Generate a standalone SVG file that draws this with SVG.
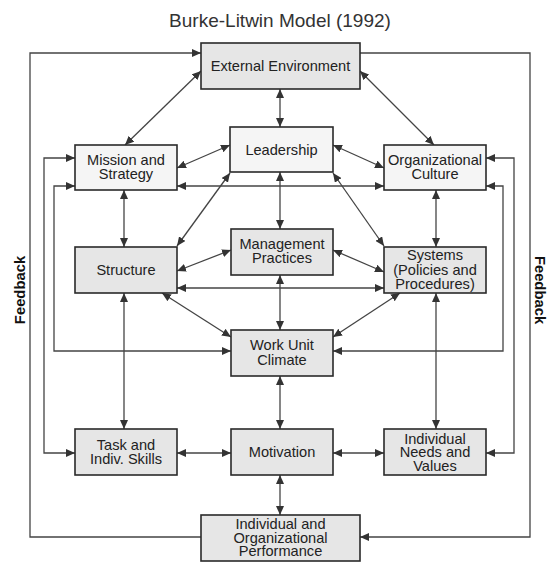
<svg xmlns="http://www.w3.org/2000/svg" width="557" height="572" viewBox="0 0 557 572">
<defs>
<marker id="a" viewBox="0 0 10 10" refX="10" refY="5" markerWidth="9" markerHeight="8" markerUnits="userSpaceOnUse" orient="auto-start-reverse" preserveAspectRatio="none"><path d="M0,0 L10,5 L0,10 z" fill="#333"/></marker>
</defs>
<style>
.b{stroke:#2a2a2a;stroke-width:1.6}
.g{fill:#e6e6e6}
.l{fill:#f5f5f5}
.t{font-family:"Liberation Sans",Arial,sans-serif;font-size:14.6px;fill:#222;text-anchor:middle}
.c path{fill:none;stroke:#444;stroke-width:1.3}
.bi{marker-start:url(#a);marker-end:url(#a)}
.one{marker-end:url(#a)}
.f{font-family:"Liberation Sans",Arial,sans-serif;font-size:14.8px;font-weight:bold;fill:#111;text-anchor:middle}
</style>
<rect width="557" height="572" fill="#fff"/>
<text x="280" y="27" font-family="Liberation Sans, Arial, sans-serif" font-size="19" fill="#333" text-anchor="middle">Burke-Litwin Model (1992)</text>
<text class="f" transform="translate(25,290) rotate(-90)">Feedback</text>
<text class="f" transform="translate(535,290) rotate(90)">Feedback</text>
<g class="c" id="connectors">
<path class="one" d="M201,537 H30 V53 H201"/>
<path class="one" d="M360,53 H530 V537 H360"/>
<path class="bi" d="M75,158 H44 V453 H75"/>
<path class="bi" d="M75,186 H54 V351 H231"/>
<path class="bi" d="M486,158 H514 V453 H486"/>
<path class="bi" d="M486,186 H503 V351 H333"/>
<path class="bi" d="M124,190 V247"/>
<path class="bi" d="M124,293 V429"/>
<path class="bi" d="M436,190 V247"/>
<path class="bi" d="M436,293 V429"/>
<path class="bi" d="M280,89 V127"/>
<path class="bi" d="M280,172 V229"/>
<path class="bi" d="M280,275 V330"/>
<path class="bi" d="M280,376 V429"/>
<path class="bi" d="M280,475 V515"/>
<path class="bi" d="M201,71 L125,145"/>
<path class="bi" d="M360,71 L434,145"/>
<path class="bi" d="M230,145 L177,168"/>
<path class="bi" d="M333,145 L384,168"/>
<path class="bi" d="M177,186 H384"/>
<path class="bi" d="M230,173 L177,246"/>
<path class="bi" d="M333,173 L384,246"/>
<path class="bi" d="M177,271 L231,250"/>
<path class="bi" d="M333,250 L384,272"/>
<path class="bi" d="M177,288 H384"/>
<path class="bi" d="M162,293 L231,337"/>
<path class="bi" d="M400,293 L333,337"/>
<path class="bi" d="M177,453 H231"/>
<path class="bi" d="M333,453 H384"/>
</g>
<g id="external"><rect class="b g" x="201" y="43" width="159" height="46"/><text class="t" x="280.5" y="71">External Environment</text></g>
<g id="leadership"><rect class="b l" x="230" y="127" width="103" height="45"/><text class="t" x="281.5" y="154.5">Leadership</text></g>
<g id="mission"><rect class="b l" x="75" y="145" width="102" height="45"/><text class="t" x="126" y="165">Mission and</text><text class="t" x="126" y="179">Strategy</text></g>
<g id="culture"><rect class="b l" x="384" y="145" width="102" height="45"/><text class="t" x="435" y="165">Organizational</text><text class="t" x="435" y="178.5">Culture</text></g>
<g id="structure"><rect class="b g" x="75" y="247" width="102" height="46"/><text class="t" x="126" y="275">Structure</text></g>
<g id="management"><rect class="b g" x="231" y="229" width="102" height="46"/><text class="t" x="282" y="249">Management</text><text class="t" x="282" y="263">Practices</text></g>
<g id="systems"><rect class="b g" x="384" y="247" width="102" height="46"/><text class="t" x="435" y="260">Systems</text><text class="t" x="435" y="274.5">(Policies and</text><text class="t" x="435" y="289">Procedures)</text></g>
<g id="workunit"><rect class="b g" x="231" y="330" width="102" height="46"/><text class="t" x="282" y="350">Work Unit</text><text class="t" x="282" y="365">Climate</text></g>
<g id="task"><rect class="b g" x="75" y="429" width="102" height="46"/><text class="t" x="126" y="450">Task and</text><text class="t" x="126" y="464">Indiv. Skills</text></g>
<g id="motivation"><rect class="b g" x="231" y="429" width="102" height="46"/><text class="t" x="282" y="457">Motivation</text></g>
<g id="needs"><rect class="b g" x="384" y="429" width="102" height="46"/><text class="t" x="435" y="443.5">Individual</text><text class="t" x="435" y="457">Needs and</text><text class="t" x="435" y="470.5">Values</text></g>
<g id="performance"><rect class="b g" x="201" y="515" width="159" height="46"/><text class="t" x="280.5" y="528.5">Individual and</text><text class="t" x="280.5" y="542.5">Organizational</text><text class="t" x="280.5" y="556">Performance</text></g>
</svg>
